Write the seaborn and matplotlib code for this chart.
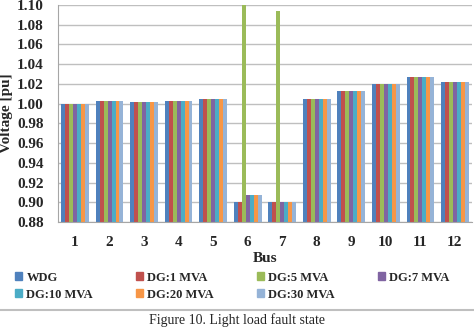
import matplotlib
matplotlib.use("Agg")
import matplotlib.pyplot as plt
import seaborn as sns
import pandas as pd
from matplotlib.patches import Patch

buses = ["1", "2", "3", "4", "5", "6", "7", "8", "9", "10", "11", "12"]
series = ["WDG", "DG:1 MVA", "DG:5 MVA", "DG:7 MVA", "DG:10 MVA", "DG:20 MVA", "DG:30 MVA"]
wdg = [1.000, 1.003, 1.002, 1.003, 1.005, 0.900, 0.900, 1.005, 1.013, 1.020, 1.027, 1.022]
dg1 = [1.000, 1.003, 1.002, 1.003, 1.005, 0.900, 0.900, 1.005, 1.013, 1.020, 1.027, 1.022]
dg5 = [1.000, 1.003, 1.002, 1.003, 1.005, 1.150, 1.094, 1.005, 1.013, 1.020, 1.027, 1.022]
dg7 = [1.000, 1.003, 1.002, 1.003, 1.005, 0.907, 0.900, 1.005, 1.013, 1.020, 1.027, 1.022]
dg10 = [1.000, 1.003, 1.002, 1.003, 1.005, 0.907, 0.900, 1.005, 1.013, 1.020, 1.027, 1.022]
dg20 = [1.000, 1.003, 1.002, 1.003, 1.005, 0.907, 0.900, 1.005, 1.013, 1.020, 1.027, 1.022]
dg30 = [1.000, 1.003, 1.002, 1.003, 1.005, 0.907, 0.900, 1.005, 1.013, 1.020, 1.027, 1.022]
values = [wdg, dg1, dg5, dg7, dg10, dg20, dg30]
colors = ["#4F81BD", "#C0504D", "#9BBB59", "#8064A2", "#4BACC6", "#F79646", "#95B3D7"]

rows = []
for s, vals in zip(series, values):
    for b, v in zip(buses, vals):
        rows.append({"Bus": b, "Series": s, "Voltage": v})
df = pd.DataFrame(rows)

sns.set_style("white")
plt.rcParams["font.family"] = ["Liberation Serif", "DejaVu Serif"]

fig = plt.figure(figsize=(4.74, 3.28), dpi=100)
ax = fig.add_axes([0.122, 0.323, 0.874, 0.662])
sns.barplot(data=df, x="Bus", y="Voltage", hue="Series", order=buses, hue_order=series,
            palette=colors, saturation=1, width=0.8, linewidth=0, ax=ax, legend=False)
ax.set_ylim(0.88, 1.10)
yt = [0.88 + 0.02 * i for i in range(12)]
ax.set_yticks(yt)
ax.set_yticklabels([f"{t:.2f}" for t in yt], fontsize=11, fontweight="bold")
ax.set_xticks(range(len(buses)))
ax.set_xticklabels(buses, fontsize=11, fontweight="bold")
ax.tick_params(axis="y", length=0, pad=10)
ax.tick_params(axis="x", length=0, pad=10)
ax.yaxis.grid(True, color="#BFBFBF", linewidth=1)
ax.set_axisbelow(True)
for side in ["top", "right"]:
    ax.spines[side].set_visible(False)
for side in ["left", "bottom"]:
    ax.spines[side].set_color("#A6A6A6")
ax.set_xlabel("Bus", fontsize=11, fontweight="bold", labelpad=2)
ax.set_ylabel("Voltage [pu]", fontsize=11, fontweight="bold", va="center")
ax.yaxis.set_label_coords(-0.123, 0.5)

handles = [Patch(color=c) for c in colors]
order = [0, 4, 1, 5, 2, 6, 3]
leg = fig.legend([handles[i] for i in order], [series[i] for i in order], ncol=4,
                 loc="center left", bbox_to_anchor=(0.032, 0.128), frameon=False,
                 prop={"family": ["Liberation Serif"], "weight": "bold", "size": 9},
                 handlelength=0.55, handleheight=0.55, handletextpad=0.35,
                 columnspacing=3.45, labelspacing=0.4, borderpad=0, borderaxespad=0)

fig.add_artist(plt.Line2D([0, 1], [0.055, 0.055], transform=fig.transFigure, color="#BFBFBF", linewidth=1.5))
fig.text(0.5, 0.025, "Figure 10. Light load fault state", ha="center", va="center", fontsize=10)

fig.savefig("out.png", dpi=100)
